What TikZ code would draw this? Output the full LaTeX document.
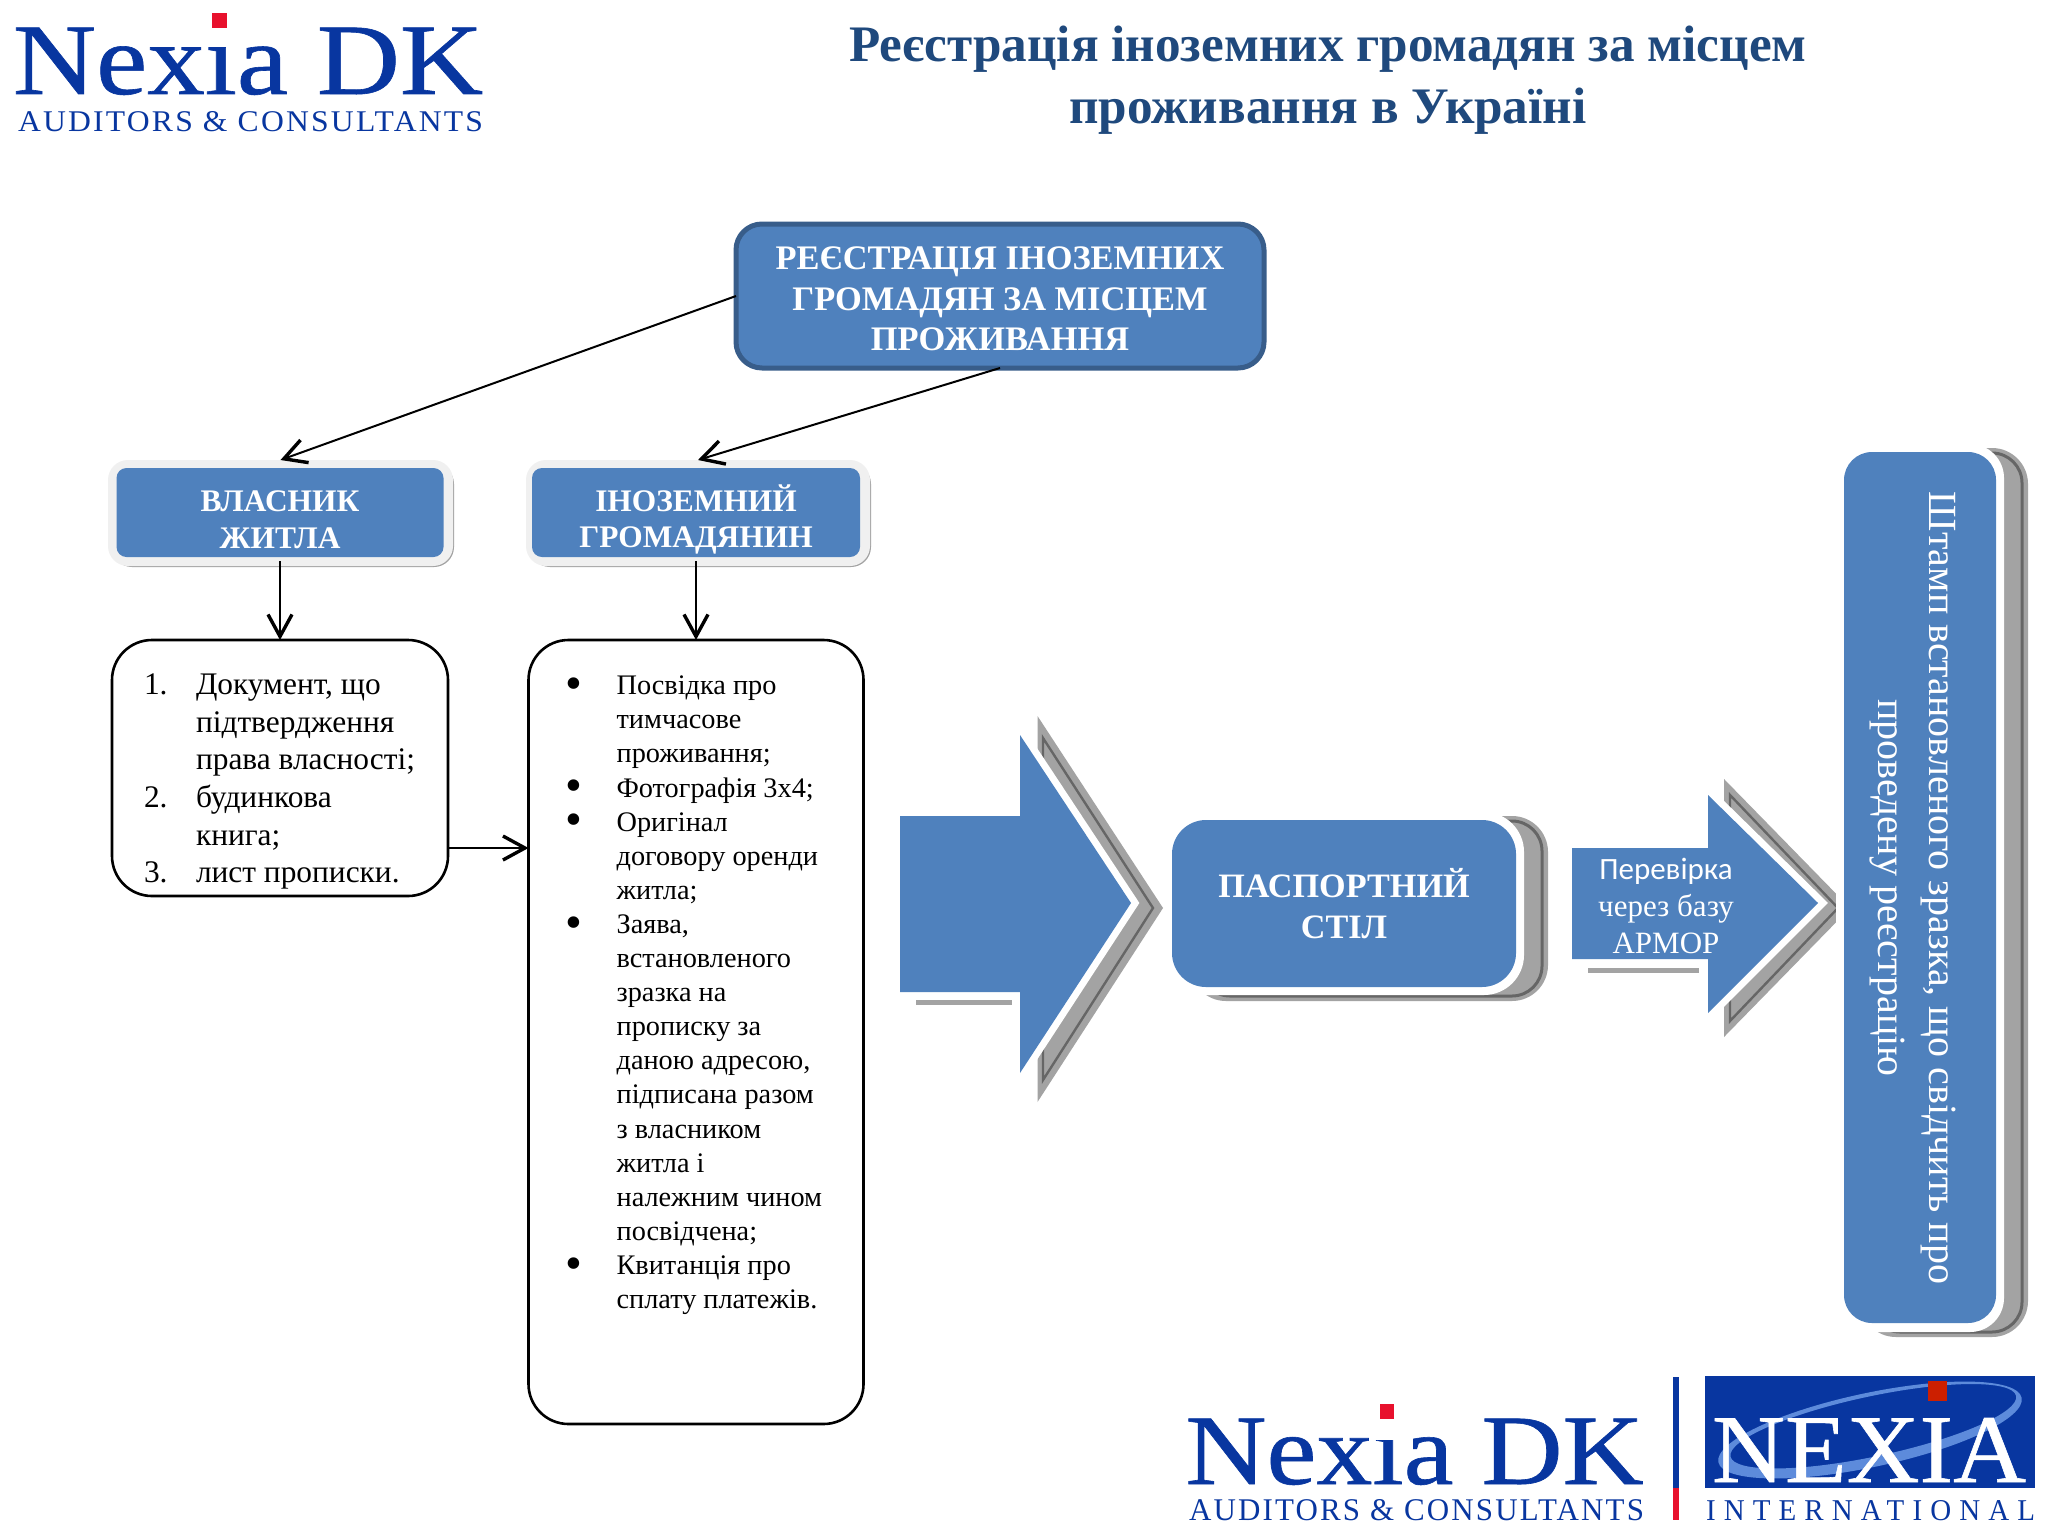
\documentclass[tikz,border=0pt]{standalone}
\usepackage{graphicx}
\usepackage{fontspec}
\setmainfont{Liberation Serif}
\newfontfamily\sansf{Carlito}
\newfontfamily\logofont[FakeBold=0.6]{Liberation Serif}
\newfontfamily\logosp[LetterSpace=7]{Liberation Serif}
\newfontfamily\logowide[LetterSpace=28]{Liberation Serif}
\usetikzlibrary{arrows.meta}
\definecolor{bfill}{HTML}{4F81BD}
\definecolor{bedge}{HTML}{385D8A}
\definecolor{gband}{HTML}{A3A3A3}
\definecolor{gdark}{HTML}{666666}
\definecolor{ttl}{HTML}{1F497D}
\definecolor{logob}{HTML}{0836A0}
\definecolor{logor}{HTML}{E8112D}
\definecolor{logoc}{HTML}{5D8BDB}
\tikzset{
  x=0.5pt,y=-0.5pt,
  every node/.style={inner sep=0pt,outer sep=0pt},
  conn/.style={line width=1pt,black,-{Straight Barb[length=11pt,width=12pt,line width=1.7pt]}},
  whitetxt/.style={text=white,align=center,font=\fontsize{17.2}{20.3}\selectfont\bfseries},
  softbox/.style={fill=bfill,rounded corners=5pt},
  halo/.style={fill=black!6,rounded corners=10pt},
  lst/.style={draw=black,line width=1.3pt,fill=white,rounded corners=20pt},
  blueout/.style={fill=bfill,draw=white,line width=7pt,line join=miter},
  bar/.style={fill=gband}
}
\begin{document}
\begin{tikzpicture}
\useasboundingbox (0,0) rectangle (2048,1536);
\fill[white] (0,0) rectangle (2048,1536);

% top logo
\node[anchor=base west,text=logob] (logoa) at (13,94) {\resizebox{235pt}{33.5pt}{\logofont Nexia DK}};
\fill[white] (204,24) rectangle (234,47);
\fill[logor] (212,13) rectangle (227,28);
\node[anchor=base west,text=logob] (logob1) at (18,131) {\resizebox{232.5pt}{10pt}{\logosp AUDITORS \& CONSULTANTS}};

% title
\node[align=center,text=ttl,font=\fontsize{25.6}{31}\selectfont\bfseries] (title) at (1328,80)
 {Реєстрація іноземних громадян за місцем\\проживання в Україні};

% main box
\node[draw=bedge,line width=2.5pt,fill=bfill,rounded corners=13pt,minimum width=264pt,minimum height=72pt] (main) at (1000,296) {};
\node[whitetxt] (maint) at (1000,299) {РЕЄСТРАЦІЯ ІНОЗЕМНИХ\\ГРОМАДЯН ЗА МІСЦЕМ\\ПРОЖИВАННЯ};

% owner / foreigner
\fill[gband,rounded corners=10pt] (112,464) rectangle (454,567);
\node[halo,minimum width=172.5pt,minimum height=53pt] (own) at (280.5,513) {};
\node[softbox,minimum width=163.5pt,minimum height=44.5pt] (ownb) at (280,512.5) {};
\node[whitetxt,font=\fontsize{15.7}{18.3}\selectfont\bfseries] (ownt) at (280,519.5) {ВЛАСНИК\\ЖИТЛА};
\fill[gband,rounded corners=10pt] (530,464) rectangle (871,567);
\node[halo,minimum width=172pt,minimum height=53pt] (fore) at (698,513) {};
\node[softbox,minimum width=164pt,minimum height=44.5pt] (foreb) at (696,512.5) {};
\node[whitetxt,font=\fontsize{15.7}{18.3}\selectfont\bfseries] (foret) at (696,519.5) {ІНОЗЕМНИЙ\\ГРОМАДЯНИН};

% lists
\node[lst,minimum width=168pt,minimum height=128pt] (l1) at (280,768) {};
\node[lst,minimum width=167.5pt,minimum height=392pt] (l2) at (696,1032) {};
\node[anchor=north west,align=left,font=\fontsize{15.7}{18.8}\selectfont] (l1t) at (144,674)
 {\makebox[26pt][l]{1.}Документ, що\\
  \hspace*{26pt}підтвердження\\
  \hspace*{26pt}права власності;\\
  \makebox[26pt][l]{2.}будинкова\\
  \hspace*{26pt}книга;\\
  \makebox[26pt][l]{3.}лист прописки.};
\newcommand{\bl}{\makebox[25.8pt][l]{\smash{\raisebox{-2.4pt}{\scalebox{1.7}{•}}}}}
\newcommand{\nb}{\hspace*{25.8pt}}
\node[anchor=north west,align=left,font=\fontsize{14.15}{17.05}\selectfont] (l2t) at (565,676)
 {\bl Посвідка про\\ \nb тимчасове\\ \nb проживання;\\
  \bl Фотографія 3х4;\\
  \bl Оригінал\\ \nb договору оренди\\ \nb житла;\\
  \bl Заява,\\ \nb встановленого\\ \nb зразка на\\ \nb прописку за\\ \nb даною адресою,\\ \nb підписана разом\\ \nb з власником\\ \nb житла і\\ \nb належним чином\\ \nb посвідчена;\\
  \bl Квитанція про\\ \nb сплату платежів.};

% connectors
\draw[conn] (main.west) -- (own.north);
\draw[conn] (main.south) -- (fore.north);
\draw[conn,shorten <=2pt] (ownb.south) -- (l1.north);
\draw[conn,shorten <=2pt] (foreb.south) -- (l2.north);
\draw[conn] ([yshift=-40pt]l1.east) -- ([yshift=-40pt]l1.east -| l2.west);

% big arrow
\fill[gband] (1037.5,716) -- (1163,908) -- (1037.5,1102) -- cycle;
\draw[gdark,line width=1.2pt,fill=gband] (1043,738) -- (1153,908) -- (1043,1080) -- cycle;
\draw[blueout] (900,816) -- (1020,816) -- (1020,735) -- (1131,903) -- (1020,1073) -- (1020,992) -- (900,992) -- cycle;
\fill[bfill] (900,816) -- (1020,816) -- (1020,735) -- (1131,903) -- (1020,1073) -- (1020,992) -- (900,992) -- cycle;
\fill[bar] (916,1000) rectangle (1012,1005);

% passport shadow + box
\fill[gband,rounded corners=18pt] (1190,816) rectangle (1548,1001);
\draw[gdark,line width=1.5pt,rounded corners=15pt] (1200,821) rectangle (1542,996);
\fill[gband,rounded corners=14pt] (1200,825) rectangle (1537,992);
\fill[white,rounded corners=20pt] (1164,812) rectangle (1524,995);
\node[fill=bfill,rounded corners=17pt,minimum width=172pt,minimum height=83.5pt] (pass) at (1344,903.5) {};
\node[whitetxt,font=\fontsize{17.1}{20.3}\selectfont\bfseries] (passt) at (1344,903.5) {ПАСПОРТНИЙ\\СТІЛ};

% small arrow
\begin{scope}
\clip (1700,760) rectangle (1836,1050);
\fill[gband] (1724,779) -- (1850,908) -- (1724,1037) -- cycle;
\draw[gdark,line width=1.2pt,fill=gband] (1730,795) -- (1838,908) -- (1730,1021) -- cycle;
\end{scope}
\draw[blueout] (1572,848) -- (1708,848) -- (1708,795) -- (1818,903) -- (1708,1013) -- (1708,959) -- (1572,959) -- cycle;
\fill[bfill] (1572,848) -- (1708,848) -- (1708,795) -- (1818,903) -- (1708,1013) -- (1708,959) -- (1572,959) -- cycle;
\fill[bar] (1588,968) rectangle (1699,973);
\node[text=white,align=center,font=\fontsize{15.5}{18.7}\selectfont] (chkt) at (1666,906)
 {{\sansf Перевірка}\\через базу\\АРМОР};

% tall box
\fill[gband,rounded corners=18pt] (1860,448) rectangle (2028,1337);
\draw[gdark,line width=1.5pt,rounded corners=15pt] (1870,453) rectangle (2022,1332);
\fill[gband,rounded corners=14pt] (1870,457) rectangle (2018,1328);
\fill[white,rounded corners=17pt] (1836,444) rectangle (2004,1332);
\node[fill=bfill,rounded corners=14pt,minimum width=76pt,minimum height=435.5pt] (stamp) at (1920,887.5) {};
\node[rotate=-90,text=white,align=center,font=\fontsize{20}{25.5}\selectfont] (stampt) at (1913,888)
 {Штамп встановленого зразка, що свідчить про\\проведену реєстрацію};

% bottom logos
\node[anchor=base west,text=logob] (logoc1) at (1185.5,1484) {\resizebox{229pt}{33pt}{\logofont Nexia DK}};
\fill[white] (1369,1417) rectangle (1401,1440);
\fill[logor] (1380,1404) rectangle (1394,1419);
\node[anchor=base west,text=logob] (logoc2) at (1189,1520) {\resizebox{227.5pt}{10.5pt}{\logosp AUDITORS \& CONSULTANTS}};
\fill[logob] (1673,1377) rectangle (1679,1488);
\fill[logor] (1673,1488) rectangle (1679,1520);
\fill[logob] (1705,1376) rectangle (2035,1488);
\begin{scope}[rotate around={12:(1870,1430)}]
\fill[logoc,even odd rule] (1870,1430) ellipse [x radius=155,y radius=37]
  (1874,1427) ellipse [x radius=146,y radius=30];
\end{scope}
\fill[red!70!orange!80!black] (1928,1381) rectangle (1947,1401);
\node[anchor=base west,text=white] (logon) at (1712,1482) {\resizebox{157pt}{32pt}{\logofont NEXIA}};
\node[anchor=base west,text=logob] (logoi) at (1706,1520) {\resizebox{164.5pt}{10pt}{\logowide INTERNATIONAL}};
\end{tikzpicture}
\end{document}
